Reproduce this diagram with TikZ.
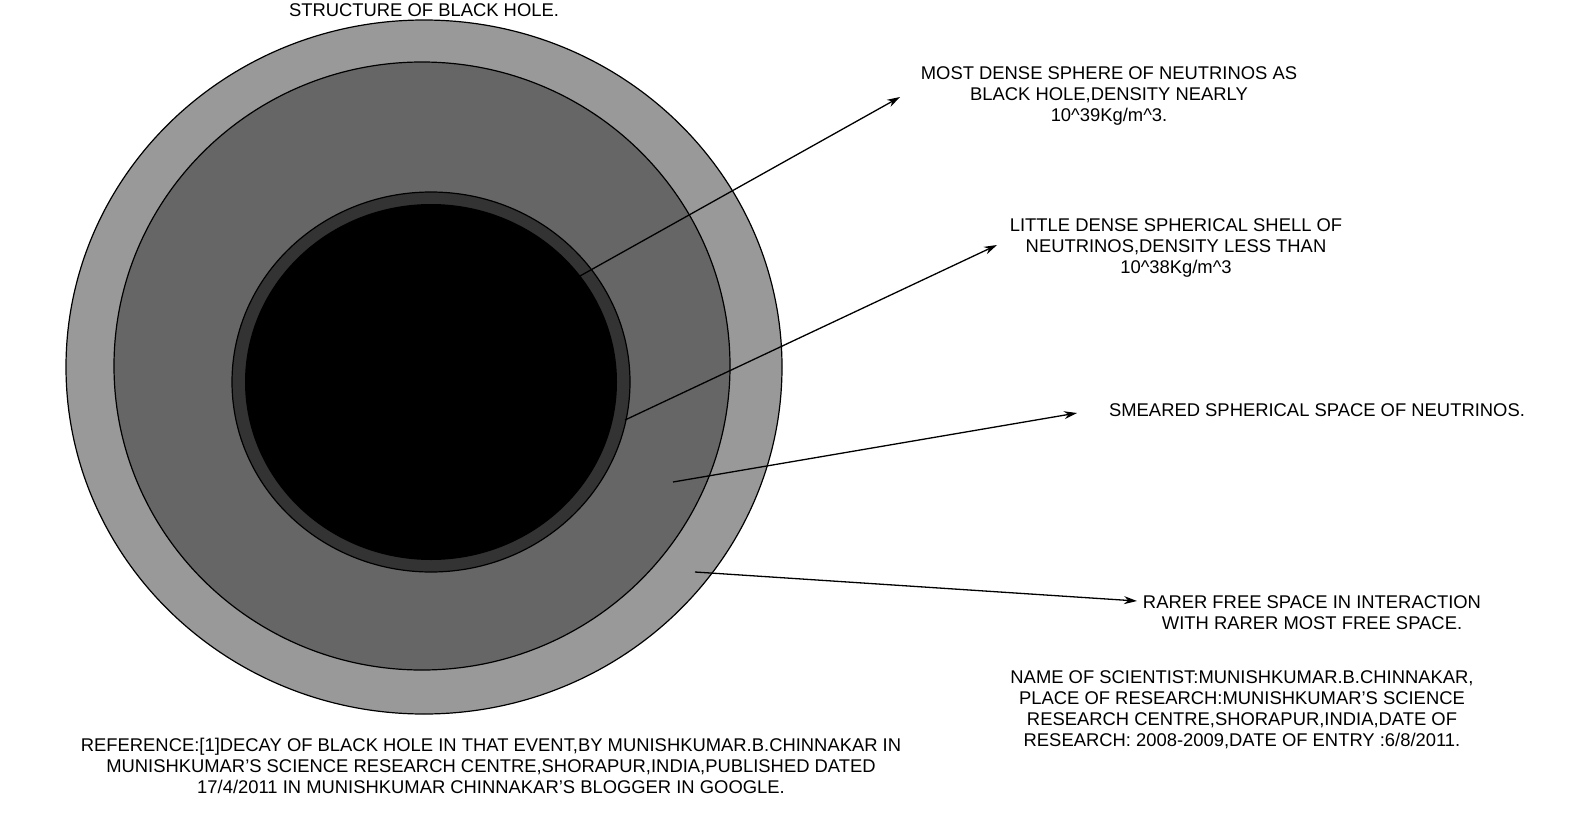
\documentclass[tikz,border=0pt]{standalone}
\usepackage{fontspec}
\setmainfont[Ligatures=NoCommon]{Liberation Sans}
\usetikzlibrary{arrows.meta}
\newcommand{\ap}{\symbol{"0027}}
\begin{document}
\begin{tikzpicture}[x=1pt,y=-1pt,
  lbl/.style={align=center,font=\fontsize{18.4}{21}\selectfont,inner sep=0pt,anchor=north},
  arr/.style={line width=1.3pt,-{Stealth[length=13pt,width=8pt]}}]
\useasboundingbox (0,0) rectangle (1587,835);
\fill[white] (0,0) rectangle (1587,835);
\draw[fill=black!40,line width=1.2pt] (424,367) ellipse [x radius=358,y radius=347];
\draw[fill=black!60,line width=1.2pt] (422,366) ellipse [x radius=308,y radius=304];
\draw[fill=black!80,line width=1.2pt] (431,382) ellipse [x radius=199,y radius=190];
\fill[black] (431,382) ellipse [x radius=186,y radius=178];
\node[lbl] (title) at (424,3) {STRUCTURE OF BLACK HOLE.};
\node[lbl] (l1) at (1109,66) {MOST DENSE SPHERE OF NEUTRINOS AS\\BLACK HOLE,DENSITY NEARLY\\10\^{}39Kg/m\^{}3.};
\node[lbl] (l2) at (1176,218) {LITTLE DENSE SPHERICAL SHELL OF\\NEUTRINOS,DENSITY LESS THAN\\10\^{}38Kg/m\^{}3};
\node[lbl] (l3) at (1317,403) {SMEARED SPHERICAL SPACE OF NEUTRINOS.};
\node[lbl] (l4) at (1312,595) {RARER FREE SPACE IN INTERACTION\\WITH RARER MOST FREE SPACE.};
\node[lbl] (name) at (1242,670) {NAME OF SCIENTIST:MUNISHKUMAR.B.CHINNAKAR,\\PLACE OF RESEARCH:MUNISHKUMAR\ap S SCIENCE\\RESEARCH CENTRE,SHORAPUR,INDIA,DATE OF\\RESEARCH: 2008-2009,DATE OF ENTRY :6/8/2011.};
\node[lbl] (ref) at (491,738) {REFERENCE:[1]DECAY OF BLACK HOLE IN THAT EVENT,BY MUNISHKUMAR.B.CHINNAKAR IN\\MUNISHKUMAR\ap S SCIENCE RESEARCH CENTRE,SHORAPUR,INDIA,PUBLISHED DATED\\17/4/2011 IN MUNISHKUMAR CHINNAKAR\ap S BLOGGER IN GOOGLE.};
\coordinate (s1) at (580,276); \coordinate (e1) at (900,97);
\coordinate (s2) at (625,420); \coordinate (e2) at (997,245);
\coordinate (s3) at (673,482); \coordinate (e3) at (1077,413);
\coordinate (s4) at (695,572); \coordinate (e4) at (1137,601);
\draw[arr] (s1) -- (e1);
\draw[arr] (s2) -- (e2);
\draw[arr] (s3) -- (e3);
\draw[arr] (s4) -- (e4);
\end{tikzpicture}
\end{document}
